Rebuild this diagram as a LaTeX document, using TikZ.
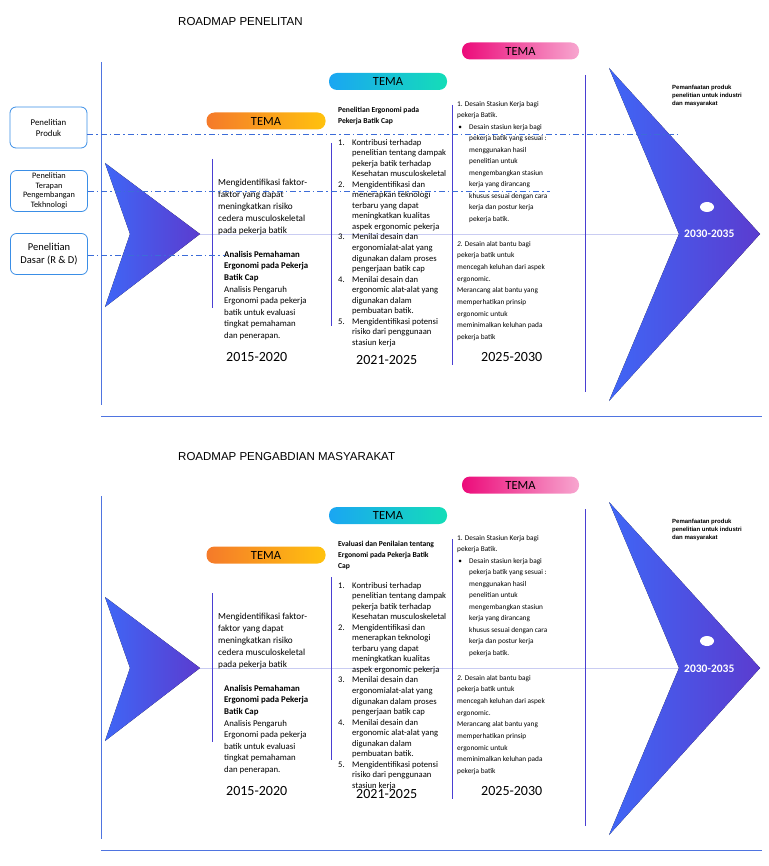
\documentclass[tikz,border=0pt]{standalone}
\usepackage{fontspec}
\setmainfont{Carlito}
\newfontfamily\arialf{Liberation Sans}
\usetikzlibrary{positioning}
\definecolor{chevA}{HTML}{3F66F6}
\definecolor{chevB}{HTML}{5B3CCF}
\definecolor{colline}{HTML}{4A3FD2}
\definecolor{vline}{HTML}{4F74E0}
\definecolor{tline}{HTML}{C9CCF2}
\definecolor{boxc}{HTML}{3A8EE6}
\definecolor{dashc}{HTML}{3C6CD8}
\definecolor{orA}{HTML}{F57A2A}
\definecolor{orB}{HTML}{FFC20E}
\definecolor{cyA}{HTML}{1AA6F2}
\definecolor{cyB}{HTML}{14DDB8}
\definecolor{pkA}{HTML}{EC0B7A}
\definecolor{pkB}{HTML}{F7A6CF}
\tikzset{
  chev/.style={left color=chevA,right color=chevB,draw=none},
  col/.style={draw=colline,line width=0.9pt},
  pill/.style={rounded corners=8pt,draw=none,minimum width=#1,minimum height=17pt,inner sep=0pt,font=\fontsize{12.5}{14}\selectfont},
  txt/.style={anchor=north west,align=left,inner sep=0pt},
  yr/.style={anchor=base west,inner sep=0pt,font=\fontsize{14}{16}\selectfont},
  ttl/.style={anchor=base west,inner sep=0pt,font=\arialf\fontsize{11.5}{13}\selectfont},
  lbox/.style={draw=boxc,line width=0.8pt,rounded corners=6pt,minimum width=77pt,minimum height=41pt,align=center,inner sep=1pt,font=\fontsize{8.8}{11}\selectfont},
  dd/.style={draw=dashc,line width=0.8pt,dash pattern=on 6pt off 3pt on 1.5pt off 3pt},
  sepl/.style={draw=vline,line width=0.9pt}
}
\newcommand{\myni}[1]{\makebox[14pt][l]{#1}}
\newcommand{\myhs}{\hspace*{14pt}}
\newcommand{\mybi}{\hspace*{12pt}}
% #1 title, #2 col2 heading, #3 list start y
\newcommand{\rmsect}[3]{%
  \node[ttl] (title) at (178,26) {#1};
  \draw[sepl] (101,62) coordinate (vt) -- (101,405) coordinate (vb);
  \draw[sepl] (101,416) coordinate (sl) -- (762,416) coordinate (sr);
  \draw[draw=tline,line width=0.8pt] (200,234) coordinate (ts) -- (760,234) coordinate (te);
  \fill[chev] (105,163) -- (200,234) -- (105,307) -- (130,234) -- cycle;
  \fill[chev] (609,68) -- (760,234) -- (609,401) -- (679,234) -- cycle;
  \fill[white] (707,207) ellipse (7pt and 5pt);
  \node[anchor=base west,inner sep=0pt,text=white,font=\bfseries\fontsize{11.5}{13}\selectfont] (y4) at (684,238) {2030-2035};
  \node[txt,font=\arialf\bfseries\fontsize{6}{8}\selectfont] (pem) at (672,85) {Pemanfaatan produk\\penelitian untuk industri\\dan masyarakat};
  \draw[col] (212,159) coordinate (c1t) -- (212,308) coordinate (c1b);
  \draw[col] (331,143) coordinate (c2t) -- (331,326) coordinate (c2b);
  \draw[col] (452,105) coordinate (c3t) -- (452,365) coordinate (c3b);
  \draw[col] (585,75) coordinate (c4t) -- (585,392) coordinate (c4b);
  \node[pill=119pt,left color=orA,right color=orB] (t1) at (266,121) {TEMA};
  \node[pill=118pt,left color=cyA,right color=cyB] (t2) at (388,81.5) {TEMA};
  \node[pill=117pt,left color=pkA,right color=pkB] (t3) at (520.5,51) {TEMA};
  \node[txt,font=\fontsize{9.2}{12}\selectfont] (c1a) at (218,179) {Mengidentifikasi faktor-\\faktor yang dapat\\meningkatkan risiko\\cedera musculoskeletal\\pada pekerja batik};
  \node[txt,font=\fontsize{8.8}{11.6}\selectfont] (c1b) at (224,251) {\textbf{Analisis Pemahaman}\\\textbf{Ergonomi pada Pekerja}\\\textbf{Batik Cap}\\Analisis Pengaruh\\Ergonomi pada pekerja\\batik untuk evaluasi\\tingkat pemahaman\\dan penerapan.};
  \node[yr] (y1) at (226,361) {2015-2020};
  \node[txt,font=\bfseries\fontsize{7.6}{11}\selectfont] (c2h) at (338,107) {#2};
  \node[txt,font=\fontsize{8.6}{10.53}\selectfont] (c2l) at (338,#3) {\myni{1.}Kontribusi terhadap\\\myhs penelitian tentang dampak\\\myhs pekerja batik terhadap\\\myhs Kesehatan musculoskeletal\\\myni{2.}Mengidentifikasi dan\\\myhs menerapkan teknologi\\\myhs terbaru yang dapat\\\myhs meningkatkan kualitas\\\myhs aspek ergonomic pekerja\\\myni{3.}Menilai desain dan\\\myhs ergonomialat-alat yang\\\myhs digunakan dalam proses\\\myhs pengerjaan batik cap\\\myni{4.}Menilai desain dan\\\myhs ergonomic alat-alat yang\\\myhs digunakan dalam\\\myhs pembuatan batik.\\\myni{5.}Mengidentifikasi potensi\\\myhs risiko dari penggunaan\\\myhs stasiun kerja};
  \node[yr] (y2) at (356,364) {2021-2025};
  \node[txt,font=\fontsize{7.3}{11.5}\selectfont] (c3a) at (457,101) {1. Desain Stasiun Kerja bagi\\pekerja Batik.\\\makebox[12pt][l]{\,\textbullet}Desain stasiun kerja bagi\\\mybi pekerja batik yang sesuai :\\\mybi menggunakan hasil\\\mybi penelitian untuk\\\mybi mengembangkan stasiun\\\mybi kerja yang dirancang\\\mybi khusus sesuai dengan cara\\\mybi kerja dan postur kerja\\\mybi pekerja batik.};
  \node[txt,font=\fontsize{7.3}{11.65}\selectfont] (c3b) at (457,241) {\textit{2.} Desain alat bantu bagi\\pekerja batik untuk\\mencegah keluhan dari aspek\\ergonomic.\\Merancang alat bantu yang\\memperhatikan prinsip\\ergonomic untuk\\meminimalkan keluhan pada\\pekerja batik};
  \node[yr] (y3) at (481,361) {2025-2030};
}
\begin{document}
\begin{tikzpicture}[x=1pt,y=-1pt]
\useasboundingbox (0,0) rectangle (768,866);
\rmsect{ROADMAP PENELITAN}{Penelitian Ergonomi pada\\Pekerja Batik Cap}{139}
\node[lbox] (bp) at (48.5,127.5) {Penelitian\\Produk};
\node[lbox,font=\fontsize{8.3}{9.6}\selectfont] (bt) at (49,191) {Penelitian\\Terapan\\Pengembangan\\Tekhnologi};
\node[lbox,font=\fontsize{10.5}{13.5}\selectfont] (bd) at (49,254) {Penelitian\\Dasar (R \& D)};
\coordinate (e1) at (678,134);
\coordinate (e2) at (550,191);
\coordinate (e3) at (225,255);
\draw[dd] (bp.east |- e1) -- (e1);
\draw[dd] (bt.east |- e2) -- (e2);
\draw[dd] (bd.east |- e3) -- (e3);
\begin{scope}[yshift=-434pt,name prefix=b-]
\rmsect{ROADMAP PENGABDIAN MASYARAKAT}{Evaluasi dan Penilaian tentang\\Ergonomi pada Pekerja Batik\\Cap}{148}
\end{scope}
\end{tikzpicture}
\end{document}
